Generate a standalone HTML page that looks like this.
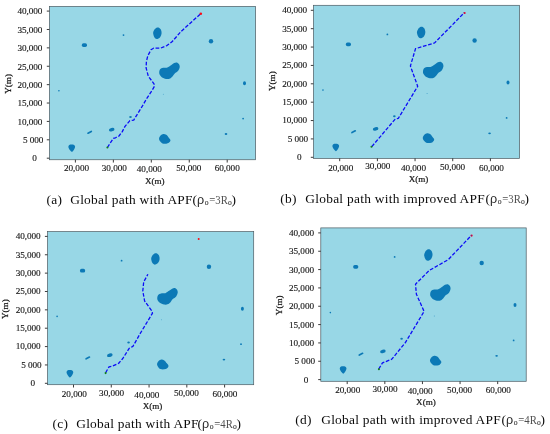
<!DOCTYPE html>
<html lang="en">
<head>
<meta charset="utf-8">
<title>Global path with APF</title>
<style>
html,body{margin:0;padding:0;background:#fff;}
body{width:550px;height:434px;overflow:hidden;}
svg{display:block;}
.soft{filter:blur(0.3px);}
text{font-family:"Liberation Serif","DejaVu Serif",serif;fill:#141414;}
.tk text{font-size:9.2px;stroke:#141414;stroke-width:0.12px;letter-spacing:-0.05px;}
.ax{font-size:9.1px;fill:#1a1a1a;stroke:#1a1a1a;stroke-width:0.22px;letter-spacing:0px;}
.cap{font-size:13.4px;letter-spacing:0.27px;fill:#0a0a0a;}
.rho{font-family:"Liberation Sans","DejaVu Sans",sans-serif;font-size:12.6px;fill:#2a2a2a;}
.sub{font-size:7.6px;fill:#3c3c3c;stroke:#3c3c3c;stroke-width:0.15px;}
.eq{font-size:12.3px;fill:#505050;}
</style>
</head>
<body>
<svg width="550" height="434" viewBox="0 0 550 434">
<rect width="550" height="434" fill="#ffffff"/>
<g transform="translate(49.4 6.35)">
<rect x="0" y="0" width="206.2" height="153.4" fill="#98d7e6"/>
<g class="soft" transform="translate(-0.1 -0.35)">
<g transform="scale(1 1)">
<path d="M103.86 27.55C103.75 26.23 104.33 25.06 104.88 24.11C105.43 23.16 106.36 22.20 107.17 21.82C107.98 21.44 108.95 21.44 109.72 21.82C110.48 22.20 111.34 23.16 111.76 24.11C112.18 25.06 112.39 26.41 112.26 27.55C112.13 28.70 111.69 30.07 110.99 30.98C110.29 31.89 108.97 32.85 108.06 33.02C107.15 33.19 106.22 32.91 105.52 32.00C104.82 31.09 103.97 28.87 103.86 27.55Z" fill="#0c79b6"/>
<path d="M109.92 66.36C110.00 65.49 110.15 64.07 110.81 63.31C111.47 62.55 112.65 62.08 113.86 61.78C115.07 61.48 116.74 61.95 118.06 61.53C119.38 61.11 120.64 59.98 121.76 59.24C122.89 58.50 123.86 57.54 124.81 57.07C125.76 56.60 126.65 56.25 127.48 56.44C128.31 56.63 129.28 57.41 129.77 58.22C130.26 59.02 130.56 60.17 130.41 61.27C130.26 62.37 129.71 63.80 128.88 64.84C128.05 65.88 126.34 66.64 125.45 67.51C124.56 68.38 124.31 69.23 123.54 70.06C122.78 70.89 121.98 71.98 120.86 72.47C119.73 72.96 118.19 73.19 116.79 72.98C115.39 72.77 113.54 71.94 112.46 71.20C111.38 70.46 110.72 69.34 110.30 68.53C109.88 67.72 109.84 67.23 109.92 66.36Z" fill="#0c79b6"/>
<path d="M109.72 132.64C109.76 131.62 110.53 130.25 111.25 129.46C111.97 128.68 113.10 128.04 114.05 127.93C115.00 127.82 116.06 128.18 116.97 128.82C117.88 129.46 118.82 130.84 119.52 131.75C120.22 132.66 121.17 133.44 121.17 134.29C121.17 135.14 120.22 136.27 119.52 136.84C118.82 137.41 118.03 137.62 116.97 137.73C115.91 137.83 114.16 137.83 113.16 137.47C112.16 137.11 111.56 136.37 110.99 135.56C110.42 134.75 109.68 133.66 109.72 132.64Z" fill="#0c79b6"/>
<path d="M19.06 140.73C19.10 140.11 19.42 139.33 19.95 138.95C20.48 138.57 21.44 138.44 22.25 138.44C23.06 138.44 24.20 138.57 24.79 138.95C25.38 139.33 25.77 140.05 25.81 140.73C25.85 141.41 25.43 142.28 25.05 143.02C24.67 143.76 23.99 144.71 23.52 145.18C23.05 145.65 22.68 145.92 22.25 145.82C21.82 145.72 21.39 145.08 20.97 144.55C20.54 144.02 20.02 143.28 19.70 142.64C19.38 142.00 19.02 141.34 19.06 140.73Z" fill="#0c79b6"/>
<path d="M38.7 127.2 L42.0 125.5" stroke="#0c79b6" stroke-width="1.7" stroke-linecap="round" fill="none"/>
<ellipse cx="62.4" cy="123.6" rx="2.85" ry="1.75" transform="rotate(-14 62.4 123.6)" fill="#0c79b6"/>
<rect x="32.50" y="37.20" width="5.2" height="3.8" rx="1.7" fill="#0c79b6"/>
<ellipse cx="74.2" cy="29.1" rx="0.9" ry="0.9" fill="#0c79b6"/>
<ellipse cx="9.6" cy="84.8" rx="0.8" ry="0.8" fill="#0c79b6"/>
<ellipse cx="161.7" cy="35.2" rx="2.2" ry="2.2" fill="#0c79b6"/>
<ellipse cx="195.2" cy="77.2" rx="1.5" ry="2.0" fill="#0c79b6"/>
<ellipse cx="193.8" cy="112.6" rx="0.9" ry="0.9" fill="#0c79b6"/>
<ellipse cx="176.7" cy="128.0" rx="1.3" ry="0.9" fill="#0c79b6"/>
<ellipse cx="81.2" cy="110.9" rx="1.3" ry="1.0" fill="#0c79b6"/>
<ellipse cx="114.0" cy="88.2" rx="0.4" ry="0.4" fill="#0c79b6"/>
</g>
<path d="M58.1 141.5 L64.0 132.4 L66.2 131.8 L69.7 130.0 L73.0 125.6 L75.7 120.4 L80.6 114.7 L84.4 114.1 L92.7 100.7 L97.1 93.1 L102.9 84.2 L105.1 80.4 L104.7 77.8 L99.0 70.2 L96.8 61.9 L97.1 55.5 L98.5 49.8 L100.2 46.6 L101.7 43.7 L104.2 42.2 L111.2 42.2 L117.6 39.6 L122.7 35.8 L131.6 25.6 L151.5 7.6" fill="none" stroke="#0c0cf6" stroke-width="1.28" stroke-dasharray="3.7 1.7" stroke-linejoin="round"/>
<circle cx="58.1" cy="141.5" r="1.05" fill="#14801a"/>
<circle cx="151.5" cy="7.8" r="1.3" fill="#fb0a16"/>
</g>
<rect x="0" y="0" width="206.2" height="153.4" fill="none" stroke="#4c5a61" stroke-width="0.7"/>
<path d="M-2.6 151.85H0 M-2.6 133.46H0 M-2.6 115.07H0 M-2.6 96.69H0 M-2.6 78.30H0 M-2.6 59.91H0 M-2.6 41.52H0 M-2.6 23.14H0 M-2.6 4.75H0 M26.00 153.4v2.8 M63.95 153.4v2.8 M101.90 153.4v2.8 M139.85 153.4v2.8 M177.80 153.4v2.8" stroke="#262626" stroke-width="0.9" fill="none"/>
<g class="tk" text-anchor="end">
<text x="-12.6" y="155.15">0</text>
<text x="-6.0" y="136.76">5 000</text>
<text x="-7.0" y="118.37">10,000</text>
<text x="-7.0" y="99.99">15,000</text>
<text x="-7.0" y="81.60">20,000</text>
<text x="-7.0" y="63.21">25,000</text>
<text x="-7.0" y="44.82">30,000</text>
<text x="-7.0" y="26.44">35,000</text>
<text x="-7.0" y="8.05">40,000</text>
</g>
<g class="tk" text-anchor="middle">
<text x="27.10" y="165.05">20,000</text>
<text x="64.90" y="164.45">30,000</text>
<text x="99.90" y="165.65">40,000</text>
<text x="139.40" y="164.45">50,000</text>
<text x="177.80" y="165.05">60,000</text>
</g>
<text class="ax" text-anchor="middle" x="105.40" y="177.40">X(m)</text>
<text class="ax" text-anchor="middle" transform="translate(-38.2 77.6) rotate(-90)">Y(m)</text>
</g>
<g transform="translate(313.4 5.3)">
<rect x="0" y="0" width="206.2" height="153.1" fill="#98d7e6"/>
<g class="soft" transform="translate(0 0)">
<g transform="scale(0.997 1)">
<path d="M103.86 27.55C103.75 26.23 104.33 25.06 104.88 24.11C105.43 23.16 106.36 22.20 107.17 21.82C107.98 21.44 108.95 21.44 109.72 21.82C110.48 22.20 111.34 23.16 111.76 24.11C112.18 25.06 112.39 26.41 112.26 27.55C112.13 28.70 111.69 30.07 110.99 30.98C110.29 31.89 108.97 32.85 108.06 33.02C107.15 33.19 106.22 32.91 105.52 32.00C104.82 31.09 103.97 28.87 103.86 27.55Z" fill="#0c79b6"/>
<path d="M109.92 66.36C110.00 65.49 110.15 64.07 110.81 63.31C111.47 62.55 112.65 62.08 113.86 61.78C115.07 61.48 116.74 61.95 118.06 61.53C119.38 61.11 120.64 59.98 121.76 59.24C122.89 58.50 123.86 57.54 124.81 57.07C125.76 56.60 126.65 56.25 127.48 56.44C128.31 56.63 129.28 57.41 129.77 58.22C130.26 59.02 130.56 60.17 130.41 61.27C130.26 62.37 129.71 63.80 128.88 64.84C128.05 65.88 126.34 66.64 125.45 67.51C124.56 68.38 124.31 69.23 123.54 70.06C122.78 70.89 121.98 71.98 120.86 72.47C119.73 72.96 118.19 73.19 116.79 72.98C115.39 72.77 113.54 71.94 112.46 71.20C111.38 70.46 110.72 69.34 110.30 68.53C109.88 67.72 109.84 67.23 109.92 66.36Z" fill="#0c79b6"/>
<path d="M109.72 132.64C109.76 131.62 110.53 130.25 111.25 129.46C111.97 128.68 113.10 128.04 114.05 127.93C115.00 127.82 116.06 128.18 116.97 128.82C117.88 129.46 118.82 130.84 119.52 131.75C120.22 132.66 121.17 133.44 121.17 134.29C121.17 135.14 120.22 136.27 119.52 136.84C118.82 137.41 118.03 137.62 116.97 137.73C115.91 137.83 114.16 137.83 113.16 137.47C112.16 137.11 111.56 136.37 110.99 135.56C110.42 134.75 109.68 133.66 109.72 132.64Z" fill="#0c79b6"/>
<path d="M19.06 140.73C19.10 140.11 19.42 139.33 19.95 138.95C20.48 138.57 21.44 138.44 22.25 138.44C23.06 138.44 24.20 138.57 24.79 138.95C25.38 139.33 25.77 140.05 25.81 140.73C25.85 141.41 25.43 142.28 25.05 143.02C24.67 143.76 23.99 144.71 23.52 145.18C23.05 145.65 22.68 145.92 22.25 145.82C21.82 145.72 21.39 145.08 20.97 144.55C20.54 144.02 20.02 143.28 19.70 142.64C19.38 142.00 19.02 141.34 19.06 140.73Z" fill="#0c79b6"/>
<path d="M38.7 127.2 L42.0 125.5" stroke="#0c79b6" stroke-width="1.7" stroke-linecap="round" fill="none"/>
<ellipse cx="62.4" cy="123.6" rx="2.85" ry="1.75" transform="rotate(-14 62.4 123.6)" fill="#0c79b6"/>
<rect x="32.50" y="37.20" width="5.2" height="3.8" rx="1.7" fill="#0c79b6"/>
<ellipse cx="74.2" cy="29.1" rx="0.9" ry="0.9" fill="#0c79b6"/>
<ellipse cx="9.6" cy="84.8" rx="0.8" ry="0.8" fill="#0c79b6"/>
<ellipse cx="161.7" cy="35.2" rx="2.2" ry="2.2" fill="#0c79b6"/>
<ellipse cx="195.2" cy="77.2" rx="1.5" ry="2.0" fill="#0c79b6"/>
<ellipse cx="193.8" cy="112.6" rx="0.9" ry="0.9" fill="#0c79b6"/>
<ellipse cx="176.7" cy="128.0" rx="1.3" ry="0.9" fill="#0c79b6"/>
<ellipse cx="81.2" cy="110.9" rx="1.3" ry="1.0" fill="#0c79b6"/>
<ellipse cx="114.0" cy="88.2" rx="0.4" ry="0.4" fill="#0c79b6"/>
</g>
<circle cx="151.2" cy="7.7" r="1.1" fill="#fb0a16"/>
<path d="M58.4 141.3 L81.8 113.8 L84.9 113.1 L104.3 81.0 L97.0 60.7 L102.1 43.4 L121.2 37.6 L150.9 7.4" fill="none" stroke="#0c0cf6" stroke-width="1.28" stroke-dasharray="3.7 1.7" stroke-linejoin="round"/>
<circle cx="58.1" cy="141.5" r="1.05" fill="#14801a"/>
</g>
<rect x="0" y="0" width="206.2" height="153.1" fill="none" stroke="#4c5a61" stroke-width="0.7"/>
<path d="M-2.6 152.00H0 M-2.6 133.62H0 M-2.6 115.25H0 M-2.6 96.88H0 M-2.6 78.50H0 M-2.6 60.12H0 M-2.6 41.75H0 M-2.6 23.38H0 M-2.6 5.00H0 M26.30 153.1v2.8 M63.98 153.1v2.8 M101.65 153.1v2.8 M139.33 153.1v2.8 M177.00 153.1v2.8" stroke="#262626" stroke-width="0.9" fill="none"/>
<g class="tk" text-anchor="end">
<text x="-11.9" y="154.90">0</text>
<text x="-5.3" y="136.53">5 000</text>
<text x="-6.3" y="118.15">10,000</text>
<text x="-6.3" y="99.78">15,000</text>
<text x="-6.3" y="81.40">20,000</text>
<text x="-6.3" y="63.02">25,000</text>
<text x="-6.3" y="44.65">30,000</text>
<text x="-6.3" y="26.27">35,000</text>
<text x="-6.3" y="7.90">40,000</text>
</g>
<g class="tk" text-anchor="middle">
<text x="27.30" y="165.50">20,000</text>
<text x="64.38" y="164.10">30,000</text>
<text x="100.05" y="166.10">40,000</text>
<text x="139.13" y="164.70">50,000</text>
<text x="178.00" y="165.50">60,000</text>
</g>
<text class="ax" text-anchor="middle" x="105.15" y="177.10">X(m)</text>
<text class="ax" text-anchor="middle" transform="translate(-38.2 75.85) rotate(-90)">Y(m)</text>
</g>
<g transform="translate(47.5 231.6)">
<rect x="0" y="0" width="206.2" height="153.1" fill="#98d7e6"/>
<g class="soft" transform="translate(0 0)">
<g transform="scale(0.9985 1)">
<path d="M103.86 27.55C103.75 26.23 104.33 25.06 104.88 24.11C105.43 23.16 106.36 22.20 107.17 21.82C107.98 21.44 108.95 21.44 109.72 21.82C110.48 22.20 111.34 23.16 111.76 24.11C112.18 25.06 112.39 26.41 112.26 27.55C112.13 28.70 111.69 30.07 110.99 30.98C110.29 31.89 108.97 32.85 108.06 33.02C107.15 33.19 106.22 32.91 105.52 32.00C104.82 31.09 103.97 28.87 103.86 27.55Z" fill="#0c79b6"/>
<path d="M109.92 66.36C110.00 65.49 110.15 64.07 110.81 63.31C111.47 62.55 112.65 62.08 113.86 61.78C115.07 61.48 116.74 61.95 118.06 61.53C119.38 61.11 120.64 59.98 121.76 59.24C122.89 58.50 123.86 57.54 124.81 57.07C125.76 56.60 126.65 56.25 127.48 56.44C128.31 56.63 129.28 57.41 129.77 58.22C130.26 59.02 130.56 60.17 130.41 61.27C130.26 62.37 129.71 63.80 128.88 64.84C128.05 65.88 126.34 66.64 125.45 67.51C124.56 68.38 124.31 69.23 123.54 70.06C122.78 70.89 121.98 71.98 120.86 72.47C119.73 72.96 118.19 73.19 116.79 72.98C115.39 72.77 113.54 71.94 112.46 71.20C111.38 70.46 110.72 69.34 110.30 68.53C109.88 67.72 109.84 67.23 109.92 66.36Z" fill="#0c79b6"/>
<path d="M109.72 132.64C109.76 131.62 110.53 130.25 111.25 129.46C111.97 128.68 113.10 128.04 114.05 127.93C115.00 127.82 116.06 128.18 116.97 128.82C117.88 129.46 118.82 130.84 119.52 131.75C120.22 132.66 121.17 133.44 121.17 134.29C121.17 135.14 120.22 136.27 119.52 136.84C118.82 137.41 118.03 137.62 116.97 137.73C115.91 137.83 114.16 137.83 113.16 137.47C112.16 137.11 111.56 136.37 110.99 135.56C110.42 134.75 109.68 133.66 109.72 132.64Z" fill="#0c79b6"/>
<path d="M19.06 140.73C19.10 140.11 19.42 139.33 19.95 138.95C20.48 138.57 21.44 138.44 22.25 138.44C23.06 138.44 24.20 138.57 24.79 138.95C25.38 139.33 25.77 140.05 25.81 140.73C25.85 141.41 25.43 142.28 25.05 143.02C24.67 143.76 23.99 144.71 23.52 145.18C23.05 145.65 22.68 145.92 22.25 145.82C21.82 145.72 21.39 145.08 20.97 144.55C20.54 144.02 20.02 143.28 19.70 142.64C19.38 142.00 19.02 141.34 19.06 140.73Z" fill="#0c79b6"/>
<path d="M38.7 127.2 L42.0 125.5" stroke="#0c79b6" stroke-width="1.7" stroke-linecap="round" fill="none"/>
<ellipse cx="62.4" cy="123.6" rx="2.85" ry="1.75" transform="rotate(-14 62.4 123.6)" fill="#0c79b6"/>
<rect x="32.50" y="37.20" width="5.2" height="3.8" rx="1.7" fill="#0c79b6"/>
<ellipse cx="74.2" cy="29.1" rx="0.9" ry="0.9" fill="#0c79b6"/>
<ellipse cx="9.6" cy="84.8" rx="0.8" ry="0.8" fill="#0c79b6"/>
<ellipse cx="161.7" cy="35.2" rx="2.2" ry="2.2" fill="#0c79b6"/>
<ellipse cx="195.2" cy="77.2" rx="1.5" ry="2.0" fill="#0c79b6"/>
<ellipse cx="193.8" cy="112.6" rx="0.9" ry="0.9" fill="#0c79b6"/>
<ellipse cx="176.7" cy="128.0" rx="1.3" ry="0.9" fill="#0c79b6"/>
<ellipse cx="81.2" cy="110.9" rx="1.3" ry="1.0" fill="#0c79b6"/>
<ellipse cx="114.0" cy="88.2" rx="0.4" ry="0.4" fill="#0c79b6"/>
</g>
<path d="M58.1 141.1 L61.5 135.3 L65.0 134.5 L71.0 131.9 L75.3 126.9 L81.7 116.7 L85.4 114.8 L92.6 102.1 L105.0 81.6 L104.4 79.4 L97.1 69.4 L95.3 59.4 L96.2 50.3 L100.4 42.6" fill="none" stroke="#0c0cf6" stroke-width="1.28" stroke-dasharray="3.7 1.7" stroke-linejoin="round"/>
<circle cx="58.1" cy="141.5" r="1.05" fill="#14801a"/>
<circle cx="151.2" cy="7.4" r="1.0" fill="#fb0a16"/>
</g>
<rect x="0" y="0" width="206.2" height="153.1" fill="none" stroke="#4c5a61" stroke-width="0.7"/>
<path d="M-2.6 151.70H0 M-2.6 133.34H0 M-2.6 114.98H0 M-2.6 96.61H0 M-2.6 78.25H0 M-2.6 59.89H0 M-2.6 41.53H0 M-2.6 23.16H0 M-2.6 4.80H0 M26.00 153.1v2.8 M63.77 153.1v2.8 M101.55 153.1v2.8 M139.32 153.1v2.8 M177.10 153.1v2.8" stroke="#262626" stroke-width="0.9" fill="none"/>
<g class="tk" text-anchor="end">
<text x="-12.5" y="154.60">0</text>
<text x="-5.8999999999999995" y="136.24">5 000</text>
<text x="-6.8999999999999995" y="117.88">10,000</text>
<text x="-6.8999999999999995" y="99.51">15,000</text>
<text x="-6.8999999999999995" y="81.15">20,000</text>
<text x="-6.8999999999999995" y="62.79">25,000</text>
<text x="-6.8999999999999995" y="44.43">30,000</text>
<text x="-6.8999999999999995" y="26.06">35,000</text>
<text x="-6.8999999999999995" y="7.70">40,000</text>
</g>
<g class="tk" text-anchor="middle">
<text x="26.80" y="165.30">20,000</text>
<text x="64.08" y="164.10">30,000</text>
<text x="99.35" y="166.10">40,000</text>
<text x="138.92" y="164.80">50,000</text>
<text x="177.40" y="165.30">60,000</text>
</g>
<text class="ax" text-anchor="middle" x="105.05" y="177.10">X(m)</text>
<text class="ax" text-anchor="middle" transform="translate(-39.1 77.6) rotate(-90)">Y(m)</text>
</g>
<g transform="translate(320.8 227.9)">
<rect x="0" y="0" width="205.4" height="153.4" fill="#98d7e6"/>
<g class="soft" transform="translate(0 -0.1)">
<g transform="scale(0.995 1)">
<path d="M103.86 27.55C103.75 26.23 104.33 25.06 104.88 24.11C105.43 23.16 106.36 22.20 107.17 21.82C107.98 21.44 108.95 21.44 109.72 21.82C110.48 22.20 111.34 23.16 111.76 24.11C112.18 25.06 112.39 26.41 112.26 27.55C112.13 28.70 111.69 30.07 110.99 30.98C110.29 31.89 108.97 32.85 108.06 33.02C107.15 33.19 106.22 32.91 105.52 32.00C104.82 31.09 103.97 28.87 103.86 27.55Z" fill="#0c79b6"/>
<path d="M109.92 66.36C110.00 65.49 110.15 64.07 110.81 63.31C111.47 62.55 112.65 62.08 113.86 61.78C115.07 61.48 116.74 61.95 118.06 61.53C119.38 61.11 120.64 59.98 121.76 59.24C122.89 58.50 123.86 57.54 124.81 57.07C125.76 56.60 126.65 56.25 127.48 56.44C128.31 56.63 129.28 57.41 129.77 58.22C130.26 59.02 130.56 60.17 130.41 61.27C130.26 62.37 129.71 63.80 128.88 64.84C128.05 65.88 126.34 66.64 125.45 67.51C124.56 68.38 124.31 69.23 123.54 70.06C122.78 70.89 121.98 71.98 120.86 72.47C119.73 72.96 118.19 73.19 116.79 72.98C115.39 72.77 113.54 71.94 112.46 71.20C111.38 70.46 110.72 69.34 110.30 68.53C109.88 67.72 109.84 67.23 109.92 66.36Z" fill="#0c79b6"/>
<path d="M109.72 132.64C109.76 131.62 110.53 130.25 111.25 129.46C111.97 128.68 113.10 128.04 114.05 127.93C115.00 127.82 116.06 128.18 116.97 128.82C117.88 129.46 118.82 130.84 119.52 131.75C120.22 132.66 121.17 133.44 121.17 134.29C121.17 135.14 120.22 136.27 119.52 136.84C118.82 137.41 118.03 137.62 116.97 137.73C115.91 137.83 114.16 137.83 113.16 137.47C112.16 137.11 111.56 136.37 110.99 135.56C110.42 134.75 109.68 133.66 109.72 132.64Z" fill="#0c79b6"/>
<path d="M19.06 140.73C19.10 140.11 19.42 139.33 19.95 138.95C20.48 138.57 21.44 138.44 22.25 138.44C23.06 138.44 24.20 138.57 24.79 138.95C25.38 139.33 25.77 140.05 25.81 140.73C25.85 141.41 25.43 142.28 25.05 143.02C24.67 143.76 23.99 144.71 23.52 145.18C23.05 145.65 22.68 145.92 22.25 145.82C21.82 145.72 21.39 145.08 20.97 144.55C20.54 144.02 20.02 143.28 19.70 142.64C19.38 142.00 19.02 141.34 19.06 140.73Z" fill="#0c79b6"/>
<path d="M38.7 127.2 L42.0 125.5" stroke="#0c79b6" stroke-width="1.7" stroke-linecap="round" fill="none"/>
<ellipse cx="62.4" cy="123.6" rx="2.85" ry="1.75" transform="rotate(-14 62.4 123.6)" fill="#0c79b6"/>
<rect x="32.50" y="37.20" width="5.2" height="3.8" rx="1.7" fill="#0c79b6"/>
<ellipse cx="74.2" cy="29.1" rx="0.9" ry="0.9" fill="#0c79b6"/>
<ellipse cx="9.6" cy="84.8" rx="0.8" ry="0.8" fill="#0c79b6"/>
<ellipse cx="161.7" cy="35.2" rx="2.2" ry="2.2" fill="#0c79b6"/>
<ellipse cx="195.2" cy="77.2" rx="1.5" ry="2.0" fill="#0c79b6"/>
<ellipse cx="193.8" cy="112.6" rx="0.9" ry="0.9" fill="#0c79b6"/>
<ellipse cx="176.7" cy="128.0" rx="1.3" ry="0.9" fill="#0c79b6"/>
<ellipse cx="81.2" cy="110.9" rx="1.3" ry="1.0" fill="#0c79b6"/>
<ellipse cx="114.0" cy="88.2" rx="0.4" ry="0.4" fill="#0c79b6"/>
</g>
<circle cx="150.8" cy="7.8" r="1.1" fill="#fb0a16"/>
<path d="M57.9 141.2 L61.7 135.1 L71.0 131.4 L84.7 114.6 L103.3 83.6 L95.6 66.4 L94.7 56.4 L108.4 42.7 L127.5 31.8 L150.6 7.6" fill="none" stroke="#0c0cf6" stroke-width="1.28" stroke-dasharray="3.7 1.7" stroke-linejoin="round"/>
<circle cx="58.1" cy="141.5" r="1.05" fill="#14801a"/>
</g>
<rect x="0" y="0" width="205.4" height="153.4" fill="none" stroke="#4c5a61" stroke-width="0.7"/>
<path d="M-2.6 151.70H0 M-2.6 133.36H0 M-2.6 115.03H0 M-2.6 96.69H0 M-2.6 78.35H0 M-2.6 60.01H0 M-2.6 41.67H0 M-2.6 23.34H0 M-2.6 5.00H0 M26.40 153.4v2.8 M64.02 153.4v2.8 M101.65 153.4v2.8 M139.27 153.4v2.8 M176.90 153.4v2.8" stroke="#262626" stroke-width="0.9" fill="none"/>
<g class="tk" text-anchor="end">
<text x="-12.4" y="154.80">0</text>
<text x="-5.8" y="136.46">5 000</text>
<text x="-6.8" y="118.12">10,000</text>
<text x="-6.8" y="99.79">15,000</text>
<text x="-6.8" y="81.45">20,000</text>
<text x="-6.8" y="63.11">25,000</text>
<text x="-6.8" y="44.77">30,000</text>
<text x="-6.8" y="26.44">35,000</text>
<text x="-6.8" y="8.10">40,000</text>
</g>
<g class="tk" text-anchor="middle">
<text x="26.90" y="165.20">20,000</text>
<text x="64.22" y="164.20">30,000</text>
<text x="99.35" y="166.20">40,000</text>
<text x="138.77" y="164.70">50,000</text>
<text x="177.50" y="165.20">60,000</text>
</g>
<text class="ax" text-anchor="middle" x="105.15" y="177.40">X(m)</text>
<text class="ax" text-anchor="middle" transform="translate(-38.4 77.4) rotate(-90)">Y(m)</text>
</g>
<text class="cap" x="46.6" y="203.6">(a)</text>
<text class="cap" x="70.2" y="203.6">Global path with APF</text>
<text class="cap" x="192.40" y="203.6">(</text>
<text class="rho" x="196.90" y="203.6">ρ</text>
<text class="sub" x="204.70" y="204.50">o</text>
<text class="eq" x="209.30" y="203.60" textLength="18.6" lengthAdjust="spacingAndGlyphs">=3R</text>
<text class="sub" x="227.90" y="204.50">o</text>
<text class="cap" x="231.50" y="203.6">)</text>
<text class="cap" x="280.2" y="202.9">(b)</text>
<text class="cap" x="305.3" y="202.9">Global path with improved APF</text>
<text class="cap" x="485.40" y="202.9">(</text>
<text class="rho" x="489.90" y="202.9">ρ</text>
<text class="sub" x="497.70" y="203.80">o</text>
<text class="eq" x="502.30" y="202.90" textLength="18.6" lengthAdjust="spacingAndGlyphs">=3R</text>
<text class="sub" x="520.90" y="203.80">o</text>
<text class="cap" x="524.50" y="202.9">)</text>
<text class="cap" x="52.6" y="428.0">(c)</text>
<text class="cap" x="76.2" y="428.0">Global path with APF</text>
<text class="cap" x="197.40" y="428.0">(</text>
<text class="rho" x="201.90" y="428.0">ρ</text>
<text class="sub" x="209.70" y="428.90">o</text>
<text class="eq" x="214.30" y="428.00" textLength="18.6" lengthAdjust="spacingAndGlyphs">=4R</text>
<text class="sub" x="232.90" y="428.90">o</text>
<text class="cap" x="236.50" y="428.0">)</text>
<text class="cap" x="295.2" y="424.0">(d)</text>
<text class="cap" x="321.2" y="424.0">Global path with improved APF</text>
<text class="cap" x="501.40" y="424.0">(</text>
<text class="rho" x="505.90" y="424.0">ρ</text>
<text class="sub" x="513.70" y="424.90">o</text>
<text class="eq" x="518.30" y="424.00" textLength="18.6" lengthAdjust="spacingAndGlyphs">=4R</text>
<text class="sub" x="536.90" y="424.90">o</text>
<text class="cap" x="540.50" y="424.0">)</text>
</svg>
</body>
</html>
